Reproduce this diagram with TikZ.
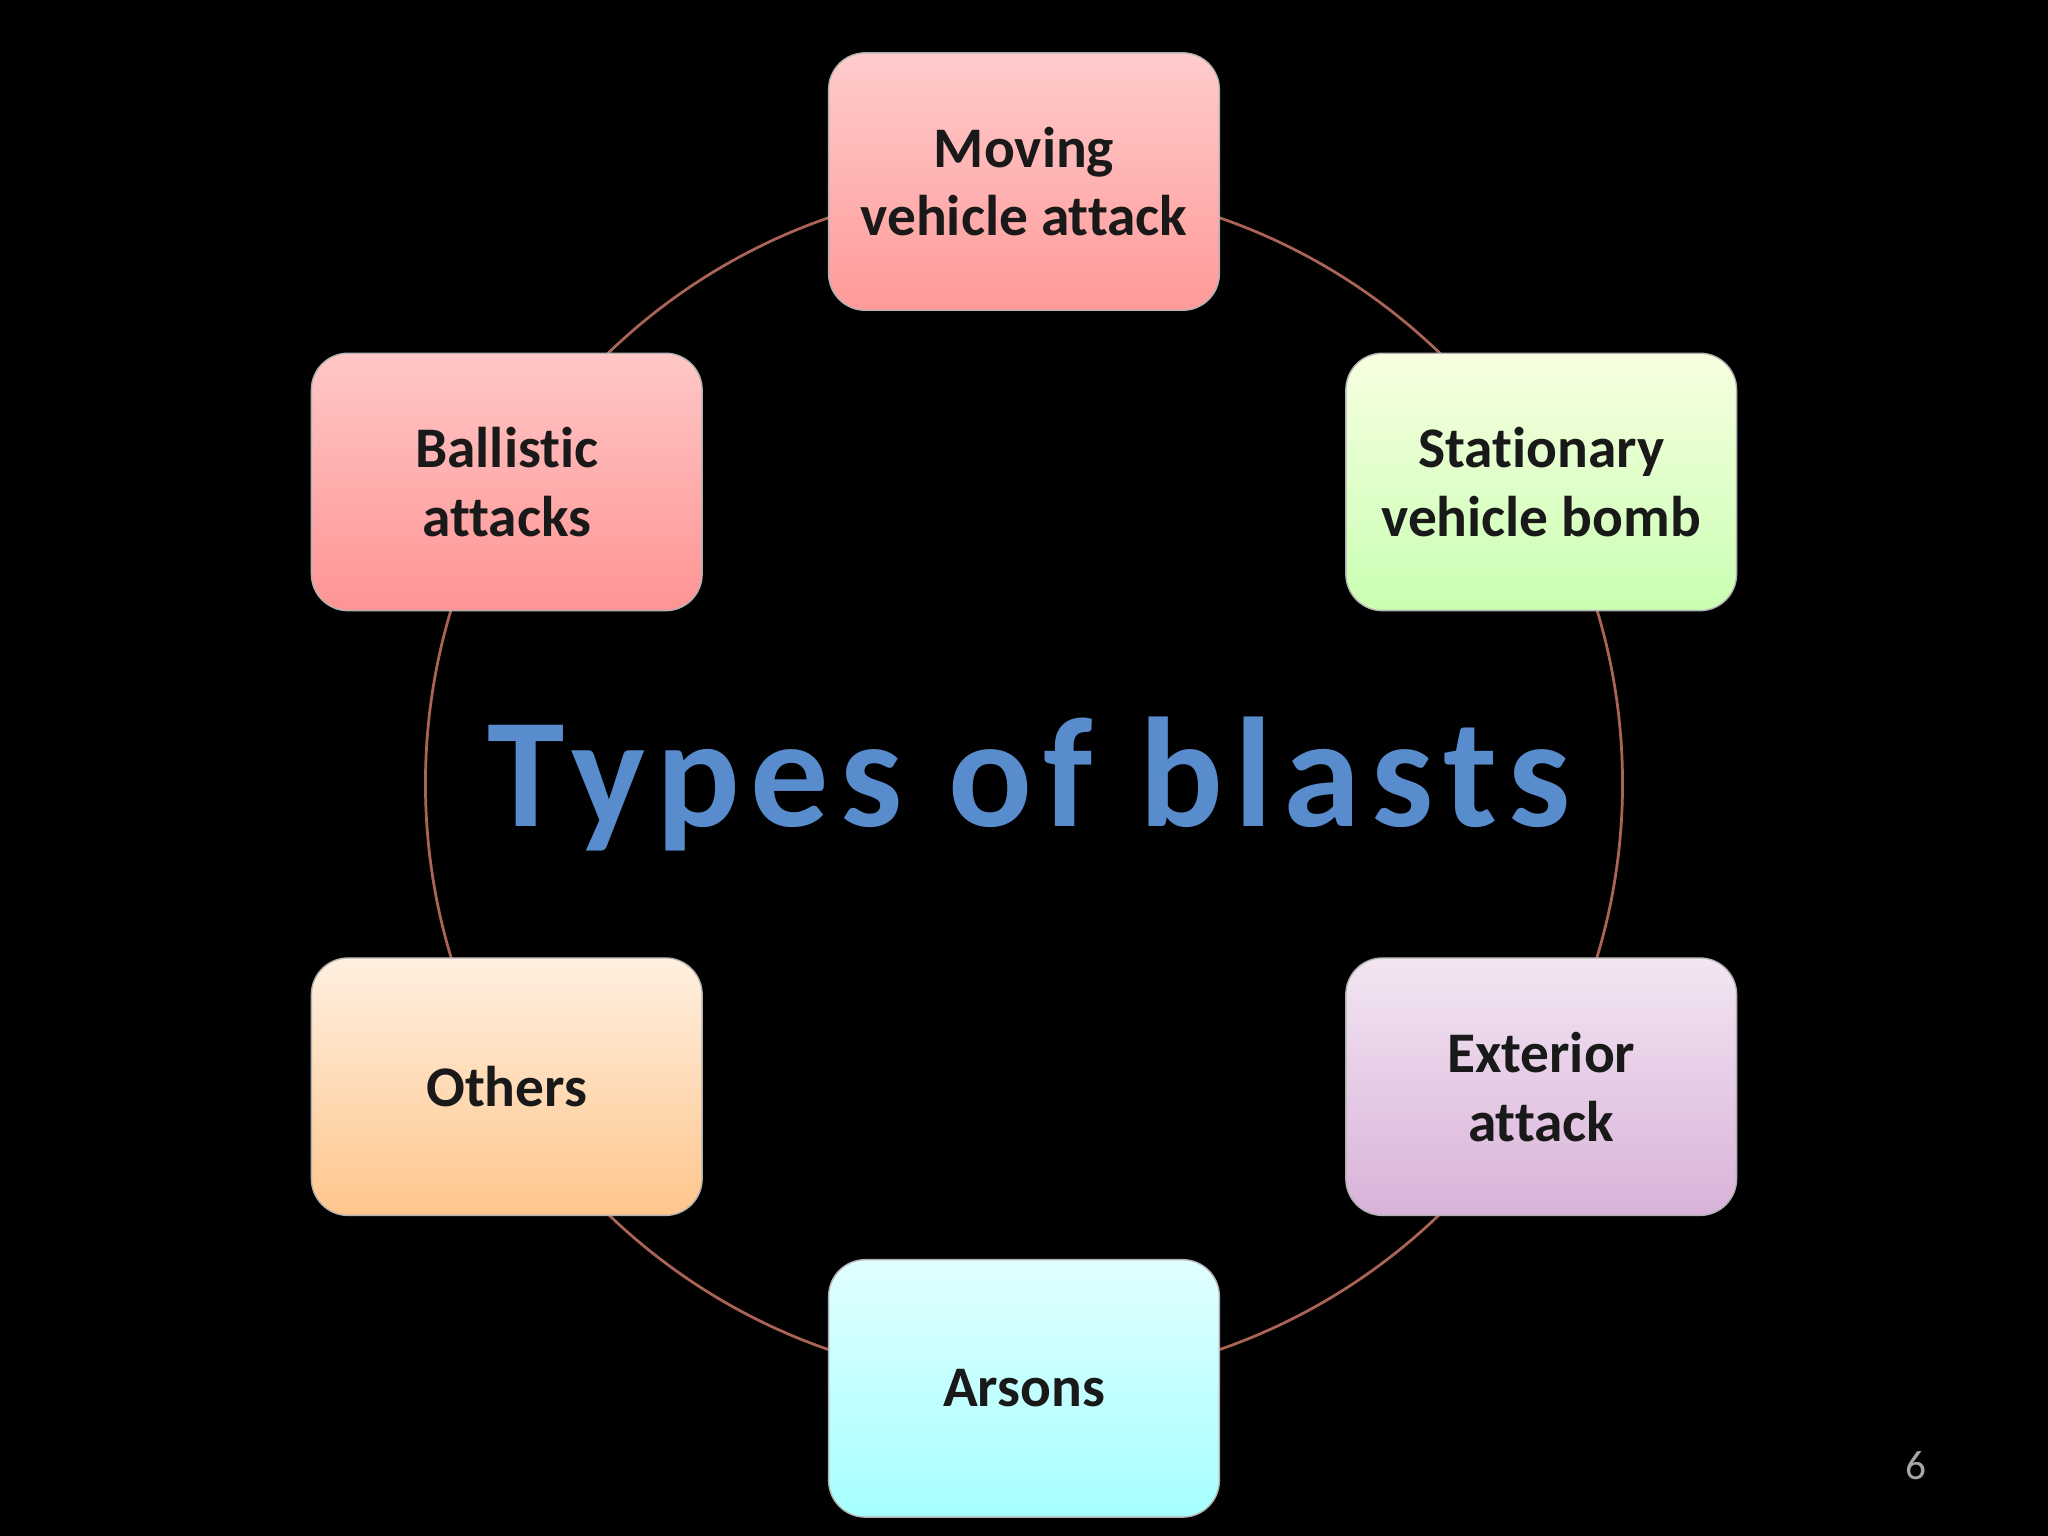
\documentclass[tikz,border=0pt]{standalone}
\usepackage{fontspec}
\setmainfont[RawFeature=-liga]{Carlito}
\begin{document}
\begin{tikzpicture}[x=0.01cm,y=-0.01cm,
  box/.style={rounded corners=0.28cm, minimum width=2.99cm, minimum height=1.97cm, align=center,
    font=\bfseries\fontsize{12.5}{15}\selectfont, text=black!90, draw=white!70!black, line width=0.3pt},
  ttl/.style={font=\bfseries\fontsize{34}{36}\selectfont\addfontfeature{LetterSpace=7}}]
\fill[black] (0,0) rectangle (1568,1176);
\useasboundingbox (0,0) rectangle (1568,1176);
\draw[draw={rgb,255:red,170;green,100;blue,85}, line width=0.6pt] (784,600) circle (4.58cm);
\node[box, top color=red!20!white, bottom color=red!40!white] (mv) at (784,139) {Moving\\vehicle attack};
\node[box, top color=red!22!white, bottom color=red!42!white] (ba) at (388,369) {Ballistic\\attacks};
\node[box, top color=lime!12!white, bottom color=lime!40!green!30!white] (st) at (1180,369) {Stationary\\vehicle bomb};
\node[box, top color=orange!12!white, bottom color=orange!45!white] (ot) at (388,832) {Others};
\node[box, top color=violet!10!white, bottom color=violet!30!white] (ex) at (1180,832) {Exterior\\attack};
\node[box, top color=cyan!12!white, bottom color=cyan!35!white] (ar) at (784,1063) {Arsons};
\node[ttl, text={rgb,255:red,88;green,140;blue,205}] (tt) at (788,600) {Types of blasts};
\node[text=gray!70!white, font=\fontsize{9}{10}\selectfont] (pg) at (1467,1122) {6};
\end{tikzpicture}
\end{document}
